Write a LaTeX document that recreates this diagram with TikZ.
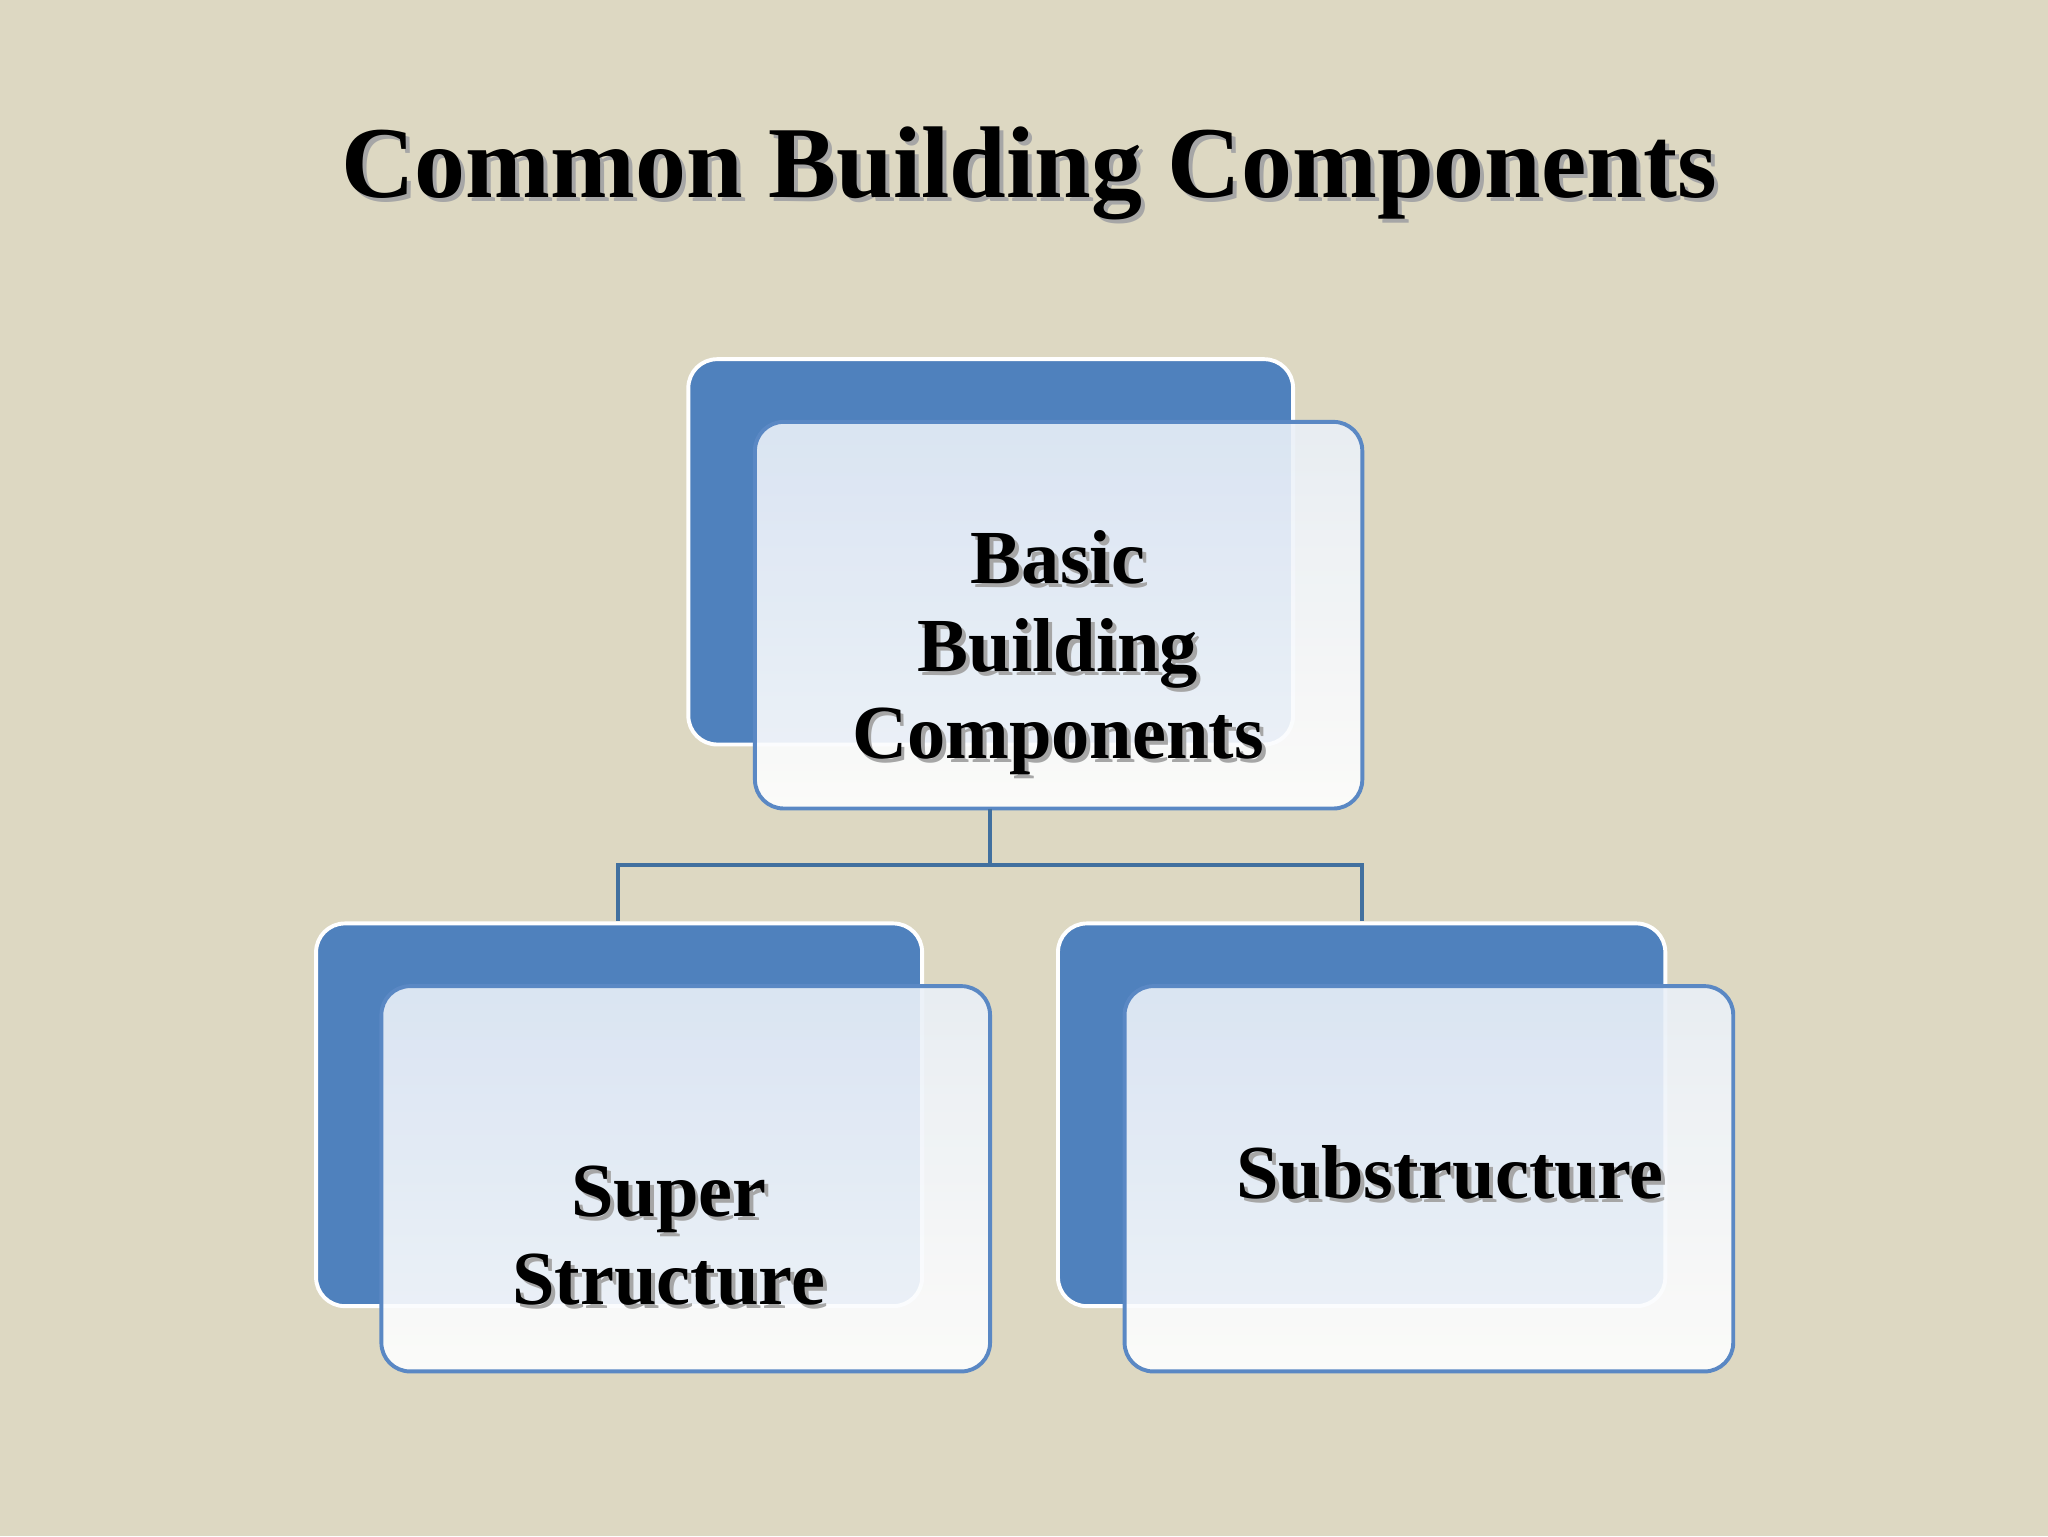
\documentclass[tikz,border=0pt]{standalone}
\usepackage{fontspec}
\setmainfont{Liberation Serif}
\definecolor{bg}{HTML}{DDD8C2}
\definecolor{bblue}{HTML}{4F81BD}
\definecolor{eblue}{HTML}{5A88C4}
\definecolor{lfill}{HTML}{F4F7FC}
\definecolor{lnk}{HTML}{41709F}
\begin{document}
\begin{tikzpicture}[x=1pt,y=-1pt,
  backbox/.style={fill=bblue,draw=white,line width=3pt,rounded corners=22pt},
  frontbox/.style={top color=lfill!85!bblue!60,bottom color=white,fill opacity=0.9,draw=eblue,line width=3pt,rounded corners=22pt},
  lbl/.style={font=\fontsize{58.5}{67}\selectfont\bfseries,align=center,text=black},
  shd/.style={font=\fontsize{58.5}{67}\selectfont\bfseries,align=center,text=black!35},
  conn/.style={draw=lnk,line width=3pt}]
\fill[bg] (0,0) rectangle (1568,1176);
\useasboundingbox (0,0) rectangle (1568,1176);
\node[font=\fontsize{78}{90}\selectfont\bfseries,text=black!35] at (791,136) {Common Building Components};
\node[font=\fontsize{78}{90}\selectfont\bfseries] (title) at (788,133) {Common Building Components};
% top
\draw[backbox] (527,275) rectangle (990,570);
\draw[frontbox] (578,323) rectangle (1043,619);
\coordinate (topb) at (758,619);
% left
\draw[backbox] (242,707) rectangle (706,1000);
\draw[frontbox] (292,755) rectangle (758,1050);
% right
\draw[backbox] (810,707) rectangle (1275,1000);
\draw[frontbox] (861,755) rectangle (1327,1050);
\coordinate (lt) at (473,705);
\coordinate (rt) at (1043,705);
\coordinate (mid) at (758,662);
\draw[conn] (topb) -- (mid) -| (lt);
\draw[conn] (mid) -| (rt);
% texts
\node[shd] at (813,503) {Basic\\Building\\Components};
\node[lbl] (t1) at (810,500) {Basic\\Building\\Components};
\node[shd] at (515,949) {Super\\Structure};
\node[lbl] (t2) at (512,946) {Super\\Structure};
\node[shd] at (1113,901) {Substructure};
\node[lbl] (t3) at (1110,898) {Substructure};
\end{tikzpicture}
\end{document}
